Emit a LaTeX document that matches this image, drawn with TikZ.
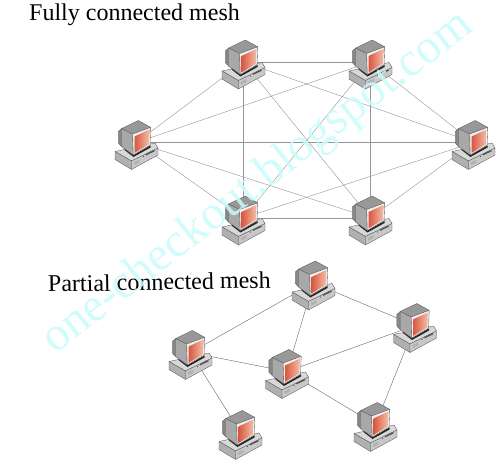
\documentclass[tikz,border=0pt]{standalone}
\usepackage{fontspec}
\setmainfont{Liberation Serif}
\usetikzlibrary{backgrounds}
\definecolor{pctop}{HTML}{D8D8D8}
\definecolor{pcleft}{HTML}{B0B0B0}
\definecolor{pcright}{HTML}{C8C8C8}
\definecolor{pcbody}{HTML}{A8A8A8}
\definecolor{pclid}{HTML}{989898}
\definecolor{pcedge}{HTML}{5A5A5A}
\definecolor{screenlo}{HTML}{D9573F}
\definecolor{screenhi}{HTML}{F3BFA8}
\definecolor{markcyan}{HTML}{C8FBFB}
\tikzset{
  pcnode/.style={inner sep=0pt, minimum width=43pt, minimum height=49pt},
  meshline/.style={line width=0.4pt, color=black!42},
  partline/.style={line width=0.4pt, color=black!60},
  title/.style={anchor=base west, inner sep=0pt, font=\fontsize{24}{26}\selectfont},
  computer/.pic={
    % Base box
    \draw[fill=pctop, draw=pcedge, line width=0.35pt, line join=round] (-21.5,6.5) -- (18.5,-2) -- (21.5,3) -- (-5,16) -- cycle;
    \draw[fill=pcleft, draw=pcedge, line width=0.35pt, line join=round] (-21.5,6.5) -- (-5,16) -- (-5,24.5) -- (-21.5,14.5) -- cycle;
    \draw[fill=pcright, draw=pcedge, line width=0.35pt, line join=round] (-5,16) -- (21.5,3) -- (21.5,10) -- (-5,24.5) -- cycle;
    % Vents and slot
    \foreach \v in {0,1.6,3.2,4.8}
      \draw[line width=0.35pt, color=black!35] (-2.5,17.5+0.5*\v) -- (3,14.8+0.5*\v);
    \draw[line width=1.2pt, color=black!70] (9.5,9.8) -- (18,5.6);
    \fill[black!70] (7,11.5) circle (0.7);
    % Monitor
    \fill[black!85] (-12,3) -- (-3,10) -- (14,0.5) -- (14,2.5) -- (-3,12) -- (-12,5) -- cycle;
    \draw[fill=pcbody!80!black, draw=pcedge, line width=0.35pt, line join=round] (-18.2,-13.5) -- (-14.8,-16.5) -- (-14.8,1.7) -- (-18.2,-2) -- cycle;
    \draw[fill=pcbody, draw=pcedge, line width=0.35pt, line join=round] (-14.8,-16.5) -- (-3.8,-11) -- (-3.2,10) -- (-14.8,1.7) -- cycle;
    \draw[fill=pclid, draw=pcedge, line width=0.35pt, line join=round] (-14.8,-16.5) -- (1.8,-24.5) -- (14.2,-17.7) -- (-3.8,-11) -- cycle;
    \draw[fill=black!6, draw=pcedge, line width=0.35pt, line join=round] (-3.8,-11) -- (14.2,-17.7) -- (13.6,0) -- (-3.2,10) -- cycle;
    \shade[left color=screenlo, right color=screenhi] (-2,-8.5) -- (12.9,-15.5) -- (12.4,-0.8) -- (-2,8) -- cycle;
  }
}
\begin{document}
\begin{tikzpicture}[x=1pt, y=-1pt]
  \useasboundingbox (0,0) rectangle (504,460);

  % Titles
  \node[title] (fulltitle) at (29,21) {Fully connected mesh};
  \node[title, rotate=1] (parttitle) at (48,292) {Partial connected mesh};

  % Fully connected computers
  \foreach \nm/\x/\y in {fa/243.5/62, fb/370.5/62, fc/136.5/142.5, fd/473.5/142.5, fe/243.5/218, ff/370.5/218}{
    \pic at (\x,\y+2.5) {computer};
    \node[pcnode] (\nm) at (\x,\y) {};
  }

  % Partial computers
  \foreach \nm/\x/\y in {pa/313.5/283, pb/415/325.5, pc/190.5/352.5, pd/287/371.5, pe/240.5/432.5, pf/375.5/424.5}{
    \pic at (\x,\y+2.5) {computer};
    \node[pcnode] (\nm) at (\x,\y) {};
  }

  % Links
  \begin{scope}[on background layer]
    \foreach \a/\b in {fa/fb, fa/fc, fa/fd, fa/fe, fa/ff, fb/fc, fb/fd, fb/fe, fb/ff, fc/fd, fc/fe, fc/ff, fd/fe, fd/ff, fe/ff}
      \draw[meshline] (\a.center) -- (\b.center);
    \foreach \a/\b in {pa/pb, pa/pc, pa/pd, pb/pd, pb/pf, pc/pd, pc/pe, pd/pf}
      \draw[partline] (\a.center) -- (\b.center);
  \end{scope}

  % Watermark
  \node[rotate=37.8, inner sep=0pt, opacity=0.85, color=markcyan, font=\fontsize{48}{50}\selectfont] (blogmark) at (258,183) {one-checkout.blogspot.com};
\end{tikzpicture}
\end{document}
